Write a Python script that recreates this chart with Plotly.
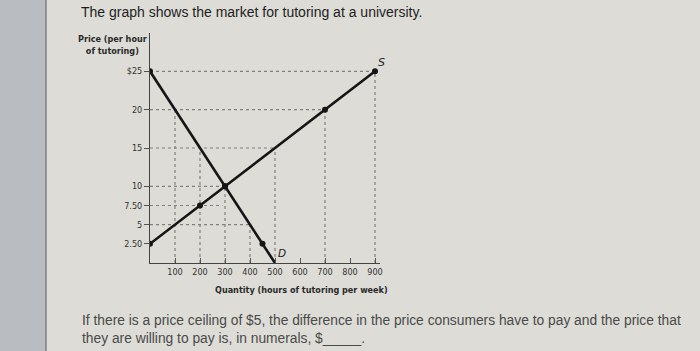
import plotly.graph_objects as go

# ---- data ----
supply_q = [0, 200, 300, 700, 900]
supply_p = [2.5, 7.5, 10, 20, 25]
demand_q = [0, 300, 450, 500]
demand_p = [25, 10, 2.5, 0]
demand_dot_q = [0, 300, 450]
demand_dot_p = [25, 10, 2.5]

y_tick_vals = [2.5, 5, 7.5, 10, 15, 20, 25]
y_tick_text = ["2.50", "5", "7.50", "10", "15", "20", "$25"]
x_tick_vals = [100, 200, 300, 400, 500, 600, 700, 800, 900]
x_tick_text = ["100", "200", "300", "400", "500", "600", "700", "800", "900"]

guide_h_levels = [25, 20, 15, 10, 7.5, 5]
guide_h_ends = [900, 700, 500, 300, 290, 400]
guide_v_qs = [100, 200, 300, 400, 500, 700, 900]
guide_v_tops = [20, 15, 10, 5, 15, 20, 25]

title_text = "The graph shows the market for tutoring at a university."
question_text = ("If there is a price ceiling of $5, the difference in the price consumers have to pay and the price that<br>"
                 "they are willing to pay is, in numerals, $_____.")

fig = go.Figure()

# dotted guides
gx, gy = [], []
for lvl, end in zip(guide_h_levels, guide_h_ends):
    gx += [0, end, None]
    gy += [lvl, lvl, None]
for q, top in zip(guide_v_qs, guide_v_tops):
    gx += [q, q, None]
    gy += [0, top, None]
fig.add_trace(go.Scatter(x=gx, y=gy, mode="lines",
                         line=dict(color="#7d807c", width=1.2, dash="dot"),
                         hoverinfo="skip", showlegend=False))

# supply
fig.add_trace(go.Scatter(x=supply_q, y=supply_p, mode="lines+markers",
                         line=dict(color="#151515", width=2.6),
                         marker=dict(color="#151515", size=6),
                         showlegend=False))
# demand
fig.add_trace(go.Scatter(x=demand_q, y=demand_p, mode="lines",
                         line=dict(color="#151515", width=2.6),
                         showlegend=False))
fig.add_trace(go.Scatter(x=demand_dot_q, y=demand_dot_p, mode="markers",
                         marker=dict(color="#151515", size=6),
                         showlegend=False))

# curve labels
fig.add_annotation(x=supply_q[-1], y=supply_p[-1], text="<i>S</i>", showarrow=False,
                   xanchor="left", yanchor="bottom", xshift=1, yshift=0,
                   font=dict(size=11, color="#222", family="DejaVu Sans"))
fig.add_annotation(x=demand_q[-1], y=demand_p[-1], text="<i>D</i>", showarrow=False,
                   xanchor="left", yanchor="bottom", xshift=1, yshift=2,
                   font=dict(size=10.5, color="#222", family="DejaVu Sans"))

# axis titles
fig.add_annotation(xref="paper", yref="paper", x=-38/230, y=(263 - 58) / 230,
                   text="<b>Price (per hour<br>of tutoring)</b>",
                   showarrow=False, xanchor="center", yanchor="bottom", align="center",
                   font=dict(size=9, color="#2a2a2a", family="DejaVu Sans Condensed, DejaVu Sans"))
fig.add_annotation(xref="paper", yref="paper", x=151/230, y=-20/230,
                   text="<b>Quantity (hours of tutoring per week)</b>",
                   showarrow=False, xanchor="center", yanchor="top",
                   font=dict(size=9, color="#2a2a2a", family="DejaVu Sans Condensed, DejaVu Sans"))

fig.update_layout(
    width=700, height=351,
    margin=dict(l=150, r=320, t=33, b=88),
    paper_bgcolor="#dddcd6", plot_bgcolor="rgba(0,0,0,0)",
    font=dict(family="Liberation Sans, Arial", color="#333"),
    title=dict(text=title_text, x=81/700, xanchor="left", y=1 - 12/351, yanchor="middle",
               font=dict(size=14, color="#1e1e1e", family="Liberation Sans, Arial")),
    shapes=[
        dict(type="rect", xref="paper", yref="paper", x0=-150/230, x1=-104/230, y0=-88/230, y1=1 + 33/230,
             fillcolor="#b9bdc1", line=dict(width=0), layer="below"),
        dict(type="line", xref="paper", yref="paper", x0=-104/230, x1=-104/230, y0=-88/230, y1=1 + 33/230,
             line=dict(color="#55585a", width=1)),
    ],
)
fig.add_annotation(xref="paper", yref="paper", x=-70/230, y=-48/230, text=question_text,
                   showarrow=False, xanchor="left", yanchor="top", align="left",
                   font=dict(size=13.8, color="#4a4a4a", family="Liberation Sans, Arial"))

fig.update_xaxes(range=[0, 920], tickvals=x_tick_vals, ticktext=x_tick_text,
                 ticks="inside", ticklen=5, tickcolor="#555", showgrid=False, zeroline=False,
                 showline=True, linecolor="#444", linewidth=1,
                 tickfont=dict(size=9, color="#333", family="DejaVu Sans Condensed, DejaVu Sans"))
fig.update_yaxes(range=[0, 30], tickvals=y_tick_vals, ticktext=y_tick_text,
                 ticks="outside", ticklen=5, tickcolor="#555", showgrid=False, zeroline=False,
                 showline=True, linecolor="#444", linewidth=1, ticklabelstandoff=0,
                 tickfont=dict(size=9, color="#333", family="DejaVu Sans Condensed, DejaVu Sans"))

fig.write_html("out.html")
